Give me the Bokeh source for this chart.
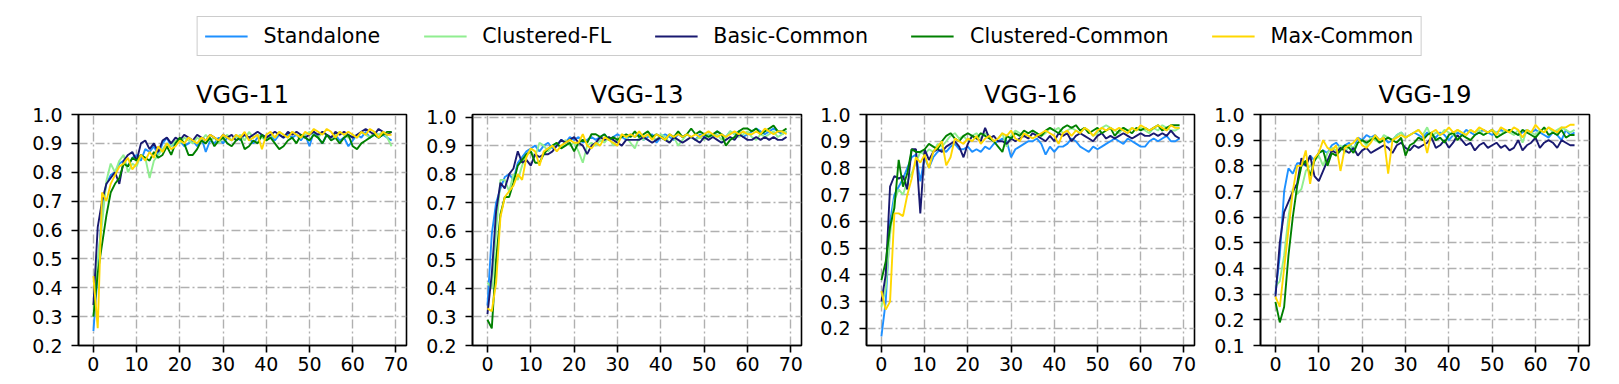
from bokeh.plotting import figure
from bokeh.layouts import column, row
from bokeh.models import Range1d, FixedTicker, NumeralTickFormatter, Legend, LegendItem
from bokeh.embed import file_html
from bokeh.resources import INLINE

epochs = list(range(70))
series_names = ["Standalone", "Clustered-FL", "Basic-Common", "Clustered-Common", "Max-Common"]
series_colors = ["#1E90FF", "#90EE90", "#191970", "#008000", "#FFD700"]
panel_titles = ["VGG-11", "VGG-13", "VGG-16", "VGG-19"]
x_ticks = [0, 10, 20, 30, 40, 50, 60, 70]

# ---------------- VGG-11 ----------------
vgg11_standalone = [0.25,0.45,0.68,0.76,0.79,0.80,0.83,0.84,0.82,0.85,0.86,0.84,0.88,0.87,0.89,0.86,0.90,0.92,0.89,0.90,
                    0.91,0.89,0.90,0.91,0.89,0.92,0.87,0.91,0.90,0.92,0.90,0.92,0.91,0.93,0.91,0.93,0.92,0.90,0.92,0.93,
                    0.92,0.93,0.91,0.93,0.92,0.93,0.92,0.93,0.91,0.93,0.89,0.94,0.92,0.90,0.93,0.92,0.93,0.91,0.92,0.89,
                    0.91,0.93,0.92,0.94,0.92,0.93,0.92,0.93,0.92,0.91]
vgg11_clustered_fl = [0.30,0.50,0.62,0.77,0.83,0.80,0.84,0.86,0.80,0.83,0.82,0.86,0.85,0.78,0.84,0.86,0.88,0.90,0.89,0.91,
                      0.90,0.92,0.91,0.90,0.92,0.91,0.93,0.91,0.92,0.90,0.92,0.93,0.91,0.92,0.93,0.91,0.94,0.92,0.93,0.92,
                      0.91,0.93,0.92,0.94,0.93,0.92,0.94,0.93,0.92,0.93,0.94,0.93,0.92,0.94,0.93,0.92,0.93,0.94,0.93,0.92,
                      0.93,0.92,0.94,0.93,0.92,0.94,0.93,0.94,0.92,0.89]
vgg11_basic_common = [0.34,0.61,0.70,0.76,0.78,0.80,0.76,0.84,0.86,0.87,0.84,0.90,0.91,0.88,0.90,0.87,0.91,0.92,0.90,0.92,
                      0.91,0.93,0.92,0.91,0.93,0.92,0.91,0.93,0.92,0.91,0.93,0.92,0.93,0.91,0.92,0.93,0.92,0.93,0.94,0.93,
                      0.92,0.93,0.94,0.93,0.92,0.94,0.93,0.94,0.93,0.92,0.93,0.94,0.93,0.94,0.93,0.92,0.94,0.93,0.94,0.93,
                      0.92,0.93,0.94,0.95,0.94,0.93,0.95,0.94,0.93,0.94]
vgg11_clustered_common = [0.30,0.45,0.55,0.65,0.73,0.76,0.78,0.83,0.82,0.85,0.84,0.86,0.85,0.84,0.87,0.85,0.86,0.89,0.86,0.90,
                          0.92,0.90,0.86,0.86,0.88,0.91,0.90,0.92,0.89,0.91,0.92,0.90,0.89,0.91,0.92,0.88,0.89,0.91,0.90,0.93,
                          0.91,0.92,0.90,0.88,0.89,0.91,0.92,0.90,0.93,0.92,0.91,0.93,0.92,0.90,0.93,0.91,0.92,0.90,0.92,0.93,
                          0.89,0.88,0.90,0.91,0.92,0.93,0.92,0.93,0.94,0.94]
vgg11_max_common = [0.44,0.26,0.73,0.70,0.76,0.79,0.82,0.83,0.85,0.81,0.83,0.86,0.84,0.87,0.85,0.89,0.87,0.90,0.88,0.89,
                    0.91,0.90,0.92,0.91,0.90,0.92,0.91,0.93,0.92,0.91,0.93,0.92,0.91,0.93,0.92,0.94,0.91,0.92,0.93,0.88,
                    0.93,0.94,0.92,0.94,0.93,0.92,0.94,0.93,0.92,0.94,0.93,0.95,0.94,0.93,0.95,0.94,0.92,0.94,0.93,0.94,
                    0.93,0.92,0.94,0.93,0.95,0.94,0.92,0.94,0.93,0.93]

# ---------------- VGG-13 ----------------
vgg13_standalone = [0.34,0.59,0.70,0.75,0.79,0.80,0.78,0.84,0.86,0.88,0.89,0.90,0.88,0.90,0.91,0.89,0.90,0.92,0.91,0.93,
                    0.92,0.93,0.91,0.92,0.93,0.92,0.93,0.94,0.92,0.93,0.94,0.93,0.92,0.94,0.93,0.94,0.92,0.93,0.94,0.91,
                    0.93,0.94,0.93,0.92,0.94,0.93,0.94,0.93,0.92,0.94,0.93,0.94,0.93,0.95,0.94,0.93,0.95,0.94,0.95,0.93,
                    0.94,0.95,0.96,0.95,0.94,0.95,0.96,0.95,0.94,0.95]
vgg13_clustered_fl = [0.42,0.40,0.60,0.78,0.78,0.74,0.80,0.78,0.83,0.87,0.88,0.86,0.91,0.90,0.88,0.90,0.91,0.89,0.92,0.90,
                      0.91,0.88,0.84,0.90,0.91,0.90,0.92,0.91,0.93,0.90,0.92,0.94,0.93,0.91,0.89,0.93,0.92,0.94,0.93,0.92,
                      0.94,0.93,0.91,0.93,0.90,0.92,0.94,0.93,0.92,0.93,0.92,0.94,0.93,0.94,0.92,0.93,0.95,0.94,0.93,0.94,
                      0.95,0.93,0.92,0.94,0.93,0.94,0.95,0.93,0.94,0.95]
vgg13_basic_common = [0.31,0.45,0.67,0.77,0.75,0.80,0.82,0.88,0.84,0.85,0.83,0.87,0.86,0.87,0.87,0.88,0.90,0.92,0.91,0.92,
                      0.93,0.91,0.90,0.87,0.90,0.91,0.93,0.92,0.93,0.92,0.91,0.90,0.92,0.92,0.92,0.92,0.93,0.92,0.91,0.92,
                      0.93,0.92,0.91,0.93,0.92,0.91,0.92,0.93,0.92,0.91,0.93,0.92,0.93,0.92,0.91,0.92,0.93,0.92,0.94,0.93,
                      0.92,0.92,0.93,0.92,0.93,0.92,0.93,0.92,0.92,0.93]
vgg13_clustered_common = [0.29,0.26,0.50,0.66,0.72,0.72,0.77,0.83,0.85,0.87,0.88,0.84,0.84,0.87,0.89,0.90,0.91,0.89,0.90,0.91,
                          0.88,0.91,0.92,0.91,0.94,0.94,0.93,0.94,0.92,0.93,0.92,0.93,0.94,0.93,0.95,0.93,0.94,0.95,0.93,0.94,
                          0.93,0.92,0.94,0.93,0.95,0.93,0.94,0.96,0.94,0.95,0.94,0.93,0.94,0.95,0.94,0.90,0.92,0.93,0.95,0.96,
                          0.96,0.95,0.96,0.94,0.95,0.96,0.97,0.95,0.95,0.96]
vgg13_max_common = [0.33,0.32,0.42,0.65,0.72,0.74,0.76,0.80,0.78,0.86,0.89,0.88,0.83,0.88,0.89,0.90,0.88,0.90,0.91,0.92,
                    0.91,0.91,0.94,0.90,0.89,0.91,0.90,0.93,0.92,0.91,0.90,0.94,0.93,0.94,0.93,0.95,0.93,0.94,0.92,0.94,
                    0.93,0.92,0.94,0.93,0.94,0.93,0.94,0.93,0.94,0.93,0.94,0.95,0.94,0.93,0.94,0.93,0.94,0.95,0.94,0.95,
                    0.94,0.94,0.95,0.94,0.96,0.95,0.94,0.95,0.95,0.94]

# ---------------- VGG-16 ----------------
vgg16_standalone = [0.17,0.30,0.60,0.70,0.73,0.76,0.80,0.84,0.85,0.75,0.84,0.80,0.84,0.86,0.87,0.86,0.88,0.89,0.87,0.87,
                    0.88,0.86,0.87,0.86,0.88,0.87,0.89,0.90,0.91,0.90,0.84,0.87,0.88,0.89,0.90,0.90,0.91,0.89,0.85,0.88,
                    0.86,0.88,0.88,0.89,0.91,0.90,0.88,0.87,0.86,0.88,0.87,0.88,0.89,0.90,0.91,0.90,0.89,0.91,0.90,0.89,
                    0.88,0.88,0.90,0.91,0.90,0.91,0.92,0.90,0.90,0.91]
vgg16_clustered_fl = [0.28,0.35,0.55,0.68,0.72,0.70,0.75,0.78,0.82,0.86,0.85,0.87,0.86,0.89,0.88,0.90,0.92,0.93,0.91,0.92,
                      0.90,0.92,0.93,0.91,0.93,0.92,0.90,0.91,0.93,0.88,0.92,0.94,0.93,0.92,0.93,0.94,0.93,0.92,0.93,0.95,
                      0.94,0.95,0.93,0.94,0.95,0.94,0.93,0.95,0.94,0.92,0.93,0.95,0.96,0.95,0.94,0.93,0.95,0.94,0.95,0.94,
                      0.95,0.94,0.93,0.95,0.94,0.96,0.95,0.94,0.94,0.95]
vgg16_basic_common = [0.30,0.40,0.73,0.77,0.76,0.77,0.72,0.87,0.87,0.63,0.87,0.83,0.86,0.87,0.86,0.88,0.89,0.90,0.88,0.84,
                      0.89,0.92,0.91,0.90,0.95,0.91,0.92,0.90,0.90,0.89,0.91,0.90,0.91,0.92,0.91,0.93,0.92,0.91,0.90,0.92,
                      0.90,0.93,0.92,0.93,0.90,0.92,0.93,0.92,0.91,0.90,0.92,0.93,0.91,0.92,0.91,0.92,0.93,0.92,0.91,0.92,
                      0.93,0.92,0.92,0.93,0.92,0.93,0.92,0.94,0.92,0.91]
vgg16_clustered_common = [0.38,0.45,0.58,0.65,0.83,0.73,0.78,0.87,0.86,0.86,0.87,0.89,0.88,0.87,0.90,0.92,0.93,0.91,0.90,0.92,
                          0.93,0.92,0.91,0.93,0.92,0.91,0.90,0.88,0.86,0.92,0.91,0.93,0.92,0.94,0.93,0.94,0.93,0.92,0.94,0.95,
                          0.94,0.93,0.95,0.96,0.95,0.96,0.94,0.95,0.93,0.94,0.95,0.93,0.94,0.95,0.92,0.94,0.95,0.94,0.93,0.95,
                          0.94,0.95,0.94,0.95,0.96,0.94,0.95,0.96,0.96,0.96]
vgg16_max_common = [0.34,0.27,0.30,0.63,0.63,0.62,0.70,0.76,0.84,0.82,0.85,0.80,0.86,0.88,0.90,0.81,0.84,0.91,0.90,0.89,
                    0.91,0.90,0.92,0.89,0.91,0.92,0.90,0.91,0.93,0.92,0.94,0.91,0.90,0.93,0.92,0.91,0.92,0.93,0.94,0.93,
                    0.92,0.89,0.93,0.94,0.92,0.94,0.93,0.95,0.94,0.92,0.94,0.95,0.94,0.95,0.94,0.95,0.94,0.93,0.95,0.94,
                    0.96,0.95,0.94,0.95,0.96,0.95,0.94,0.96,0.95,0.95]

# ---------------- VGG-19 ----------------
vgg19_standalone = [0.30,0.45,0.70,0.79,0.77,0.81,0.81,0.80,0.84,0.82,0.85,0.86,0.85,0.88,0.89,0.87,0.88,0.89,0.86,0.91,
                    0.90,0.92,0.91,0.92,0.90,0.91,0.89,0.90,0.92,0.93,0.91,0.92,0.93,0.92,0.91,0.93,0.92,0.91,0.93,0.92,
                    0.90,0.92,0.93,0.92,0.94,0.93,0.92,0.93,0.94,0.93,0.92,0.93,0.94,0.93,0.94,0.93,0.92,0.93,0.94,0.93,
                    0.94,0.93,0.92,0.91,0.93,0.92,0.90,0.94,0.92,0.93]
vgg19_clustered_fl = [0.33,0.35,0.45,0.60,0.71,0.69,0.71,0.78,0.80,0.82,0.84,0.80,0.85,0.87,0.86,0.88,0.85,0.88,0.87,0.89,
                      0.90,0.88,0.91,0.90,0.89,0.92,0.91,0.90,0.92,0.93,0.91,0.92,0.93,0.94,0.92,0.95,0.91,0.93,0.92,0.94,
                      0.93,0.92,0.94,0.93,0.92,0.94,0.93,0.94,0.92,0.93,0.94,0.93,0.92,0.94,0.93,0.92,0.94,0.89,0.94,0.93,
                      0.92,0.94,0.93,0.95,0.93,0.94,0.95,0.94,0.93,0.94]
vgg19_basic_common = [0.29,0.50,0.62,0.66,0.70,0.73,0.83,0.80,0.84,0.76,0.74,0.78,0.82,0.86,0.85,0.87,0.86,0.85,0.87,0.84,
                      0.86,0.87,0.85,0.86,0.87,0.88,0.87,0.85,0.88,0.89,0.87,0.86,0.88,0.87,0.88,0.89,0.91,0.87,0.88,0.90,
                      0.87,0.89,0.92,0.90,0.88,0.89,0.86,0.88,0.89,0.87,0.88,0.89,0.87,0.88,0.86,0.87,0.90,0.86,0.88,0.89,
                      0.91,0.87,0.89,0.90,0.89,0.87,0.90,0.89,0.88,0.88]
vgg19_clustered_common = [0.27,0.19,0.25,0.45,0.60,0.72,0.80,0.82,0.76,0.82,0.85,0.86,0.80,0.85,0.84,0.86,0.88,0.87,0.85,0.89,
                          0.90,0.89,0.90,0.91,0.89,0.90,0.91,0.90,0.89,0.91,0.84,0.88,0.89,0.91,0.90,0.92,0.93,0.90,0.91,0.89,
                          0.92,0.93,0.90,0.92,0.91,0.90,0.92,0.93,0.92,0.93,0.94,0.91,0.92,0.93,0.94,0.93,0.92,0.94,0.93,0.92,
                          0.91,0.93,0.95,0.92,0.93,0.92,0.94,0.91,0.92,0.92]
vgg19_max_common = [0.29,0.25,0.40,0.55,0.70,0.80,0.80,0.86,0.73,0.83,0.85,0.90,0.87,0.86,0.88,0.78,0.87,0.88,0.89,0.91,
                    0.88,0.87,0.89,0.92,0.90,0.91,0.77,0.90,0.91,0.92,0.91,0.92,0.93,0.94,0.92,0.85,0.93,0.94,0.92,0.93,
                    0.95,0.93,0.94,0.93,0.92,0.94,0.93,0.95,0.94,0.93,0.94,0.92,0.95,0.94,0.93,0.95,0.94,0.91,0.94,0.93,
                    0.96,0.94,0.93,0.95,0.94,0.93,0.95,0.95,0.96,0.96]

panel_data = [
    [vgg11_standalone, vgg11_clustered_fl, vgg11_basic_common, vgg11_clustered_common, vgg11_max_common],
    [vgg13_standalone, vgg13_clustered_fl, vgg13_basic_common, vgg13_clustered_common, vgg13_max_common],
    [vgg16_standalone, vgg16_clustered_fl, vgg16_basic_common, vgg16_clustered_common, vgg16_max_common],
    [vgg19_standalone, vgg19_clustered_fl, vgg19_basic_common, vgg19_clustered_common, vgg19_max_common],
]
y_limits = [(0.2, 1.0), (0.2, 1.009), (0.136, 1.0), (0.1, 1.0)]
y_ticks = [
    [0.2, 0.3, 0.4, 0.5, 0.6, 0.7, 0.8, 0.9, 1.0],
    [0.2, 0.3, 0.4, 0.5, 0.6, 0.7, 0.8, 0.9, 1.0],
    [0.2, 0.3, 0.4, 0.5, 0.6, 0.7, 0.8, 0.9, 1.0],
    [0.1, 0.2, 0.3, 0.4, 0.5, 0.6, 0.7, 0.8, 0.9, 1.0],
]

# layout: (min_border_left, frame_width, min_border_right)
borders = [(78, 328, 2), (64, 329, 2), (63, 328, 2), (64, 329, 10)]
FONT = "DejaVu Sans"
TOP, FRAME_H, BOTTOM = 52, 231, 36

panels = []
for k in range(4):
    bl, fw, br = borders[k]
    p = figure(width=bl + fw + br, height=TOP + FRAME_H + BOTTOM, output_backend="svg", toolbar_location=None,
               min_border_left=bl, min_border_right=br, min_border_top=TOP, min_border_bottom=BOTTOM,
               x_range=Range1d(-3.45, 72.45), y_range=Range1d(*y_limits[k]),
               title=panel_titles[k])
    p.title.align = "center"
    p.title.text_font = FONT
    p.title.text_font_size = "24px"
    p.title.text_font_style = "normal"
    p.title.text_color = "black"
    p.title.standoff = 12
    for ax in (p.xaxis[0], p.yaxis[0]):
        ax.axis_line_color = "black"
        ax.axis_line_width = 1.6
        ax.major_tick_line_color = "black"
        ax.major_tick_line_width = 1.6
        ax.major_tick_in = 0
        ax.major_tick_out = 7
        ax.minor_tick_line_color = None
        ax.major_label_text_font = FONT
        ax.major_label_text_font_size = "19px"
        ax.major_label_text_color = "black"
    p.xaxis[0].ticker = FixedTicker(ticks=x_ticks)
    p.yaxis[0].ticker = FixedTicker(ticks=y_ticks[k])
    p.yaxis[0].formatter = NumeralTickFormatter(format="0.0")
    p.xaxis[0].major_label_standoff = 4
    p.yaxis[0].major_label_standoff = 9
    p.outline_line_color = "black"
    p.outline_line_width = 1.6
    p.outline_line_alpha = 1.0
    for g in (p.xgrid[0], p.ygrid[0]):
        g.grid_line_color = "#b0b0b0"
        g.grid_line_width = 1.4
        g.grid_line_dash = "9 3 2 3"
    for s in range(5):
        p.line(epochs, panel_data[k][s], line_color=series_colors[s], line_width=1.9)
    panels.append(p)

# legend strip (its sample lines lie outside the visible range; only the legend shows them)
lg = figure(width=1618, height=62, output_backend="svg", toolbar_location=None,
            min_border=0, x_range=Range1d(0, 1), y_range=Range1d(0, 1))
lg.xaxis.visible = False
lg.yaxis.visible = False
lg.xgrid.visible = False
lg.ygrid.visible = False
lg.outline_line_color = None
items = []
for s in range(5):
    r = lg.line(x=[-5, -4], y=[-5, -4], line_color=series_colors[s], line_width=1.9)
    items.append(LegendItem(label=series_names[s], renderers=[r]))
legend = Legend(items=items, orientation="horizontal", location="top_center", margin=16,
                glyph_width=43, glyph_height=20, label_standoff=16, spacing=43, padding=7,
                label_text_font=FONT, label_text_font_size="20.6px", label_height=24,
                label_text_color="black",
                border_line_color="#cccccc", border_line_width=1.5, border_line_alpha=1.0,
                background_fill_color="white", background_fill_alpha=1.0)
lg.add_layout(legend, "center")

layout = column(lg, row(*panels))
open("out.html", "w").write(file_html(layout, INLINE))
